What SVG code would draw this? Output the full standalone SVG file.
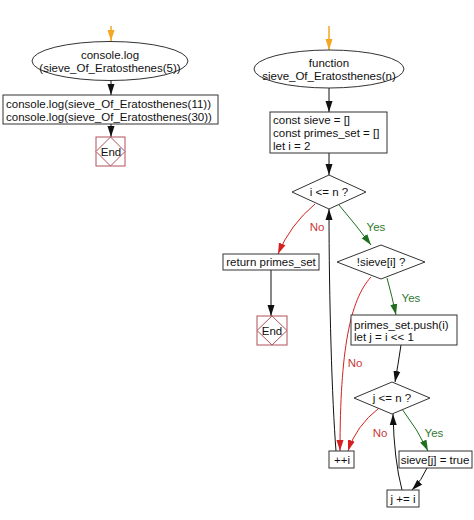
<svg xmlns="http://www.w3.org/2000/svg" width="474" height="520" viewBox="0 0 474 520">
<style>
text{font-family:"Liberation Sans",Arial,sans-serif;font-size:11.5px;fill:#111}
.c{text-anchor:middle}
.box{fill:#fff;stroke:#333;stroke-width:1}
.end{fill:#fff;stroke:#b0505a;stroke-width:1}
.k{fill:none;stroke:#111;stroke-width:1}
.r{fill:none;stroke:#d42020;stroke-width:1}
.g{fill:none;stroke:#1f6f1f;stroke-width:1}
.o{fill:none;stroke:#f5a623;stroke-width:1.5}
.nl{fill:#c83a3a}
.yl{fill:#2f7a2f}
</style>
<defs>
<marker id="ak" markerWidth="12" markerHeight="8" refX="11" refY="4" orient="auto" markerUnits="userSpaceOnUse"><path d="M0,0.5 L11,4 L0,7.5 z" fill="#111"/></marker>
<marker id="ar" markerWidth="12" markerHeight="8" refX="11" refY="4" orient="auto" markerUnits="userSpaceOnUse"><path d="M0,0.5 L11,4 L0,7.5 z" fill="#d42020"/></marker>
<marker id="ag" markerWidth="12" markerHeight="8" refX="11" refY="4" orient="auto" markerUnits="userSpaceOnUse"><path d="M0,0.5 L11,4 L0,7.5 z" fill="#1f6f1f"/></marker>
<marker id="ao" markerWidth="12" markerHeight="8" refX="11" refY="4" orient="auto" markerUnits="userSpaceOnUse"><path d="M0,0.5 L11,4 L0,7.5 z" fill="#f5a623"/></marker>
</defs>
<g id="connectors">
<path class="o" d="M111,26 L111,41" marker-end="url(#ao)"/>
<path class="k" d="M111,80 L111,95" marker-end="url(#ak)"/>
<path class="k" d="M111,124 L111,137" marker-end="url(#ak)"/>
<path class="o" d="M329,26 L329,50" marker-end="url(#ao)"/>
<path class="k" d="M329,88 L329,112" marker-end="url(#ak)"/>
<path class="k" d="M329,153 L329,175" marker-end="url(#ak)"/>
<path class="r" d="M315,204 Q290,225 278,254" marker-end="url(#ar)"/>
<path class="g" d="M339,205 Q356,225 371,245" marker-end="url(#ag)"/>
<path class="k" d="M271,270 L271,316" marker-end="url(#ak)"/>
<path class="g" d="M387,278 Q392,296 396,315" marker-end="url(#ag)"/>
<path class="r" d="M371,277 C350,300 340,350 340,451" marker-end="url(#ar)"/>
<path class="k" d="M401,345 Q398,365 395,382" marker-end="url(#ak)"/>
<path class="r" d="M379,408 Q356,426 348,451" marker-end="url(#ar)"/>
<path class="g" d="M402,409 Q418,430 428,451" marker-end="url(#ag)"/>
<path class="k" d="M427,468 Q422,480 412,490" marker-end="url(#ak)"/>
<path class="k" d="M402,490 Q394,460 393,414" marker-end="url(#ak)"/>
<path class="k" d="M336,451 C332,400 329,300 329,209" marker-end="url(#ak)"/>
<text class="nl c" x="317" y="231">No</text>
<text class="yl c" x="376" y="231">Yes</text>
<text class="yl c" x="411" y="302">Yes</text>
<text class="nl c" x="355" y="367">No</text>
<text class="nl c" x="380" y="437">No</text>
<text class="yl c" x="434" y="437">Yes</text>
</g>
<g id="start1">
<ellipse class="box" cx="110" cy="61" rx="78" ry="19.5"/>
<text class="c" x="110" y="59">console.log</text>
<text class="c" x="110" y="72">(sieve_Of_Eratosthenes(5))</text>
</g>
<g id="calls">
<rect class="box" x="3" y="95" width="215" height="29"/>
<text x="6" y="108">console.log(sieve_Of_Eratosthenes(11))</text>
<text x="6" y="121">console.log(sieve_Of_Eratosthenes(30))</text>
</g>
<g id="end1">
<rect class="end" x="96" y="137" width="29" height="29"/>
<path class="end" d="M110.5,137 L125,151.5 L110.5,166 L96,151.5 z"/>
<text class="c" x="111" y="156">End</text>
</g>
<g id="start2">
<ellipse class="box" cx="329" cy="69" rx="75" ry="19"/>
<text class="c" x="329" y="67">function</text>
<text class="c" x="329" y="80">sieve_Of_Eratosthenes(n)</text>
</g>
<g id="init">
<rect class="box" x="270" y="112" width="117" height="41"/>
<text x="273" y="124">const sieve = []</text>
<text x="273" y="137">const primes_set = []</text>
<text x="273" y="150">let i = 2</text>
</g>
<g id="cond_i">
<path class="box" d="M329,175 L366,192 L329,209 L292,192 z"/>
<text class="c" x="329" y="196">i &lt;= n ?</text>
</g>
<g id="ret">
<rect class="box" x="223" y="254" width="96" height="16"/>
<text class="c" x="271" y="266">return primes_set</text>
</g>
<g id="end2">
<rect class="end" x="257" y="316" width="30" height="29"/>
<path class="end" d="M272,316 L287,330.5 L272,345 L257,330.5 z"/>
<text class="c" x="272" y="335">End</text>
</g>
<g id="cond_sieve">
<path class="box" d="M381,245 L425,262 L381,279 L337,262 z"/>
<text class="c" x="381" y="266">!sieve[i] ?</text>
</g>
<g id="push">
<rect class="box" x="351" y="315" width="106" height="30"/>
<text x="354" y="329">primes_set.push(i)</text>
<text x="354" y="341">let j = i &lt;&lt; 1</text>
</g>
<g id="cond_j">
<path class="box" d="M392,382 L430,398 L392,414 L354,398 z"/>
<text class="c" x="392" y="402">j &lt;= n ?</text>
</g>
<g id="inc_i">
<rect class="box" x="329" y="451" width="25" height="17"/>
<text class="c" x="342" y="464">++i</text>
</g>
<g id="mark">
<rect class="box" x="399" y="451" width="73" height="17"/>
<text class="c" x="435" y="464">sieve[j] = true</text>
</g>
<g id="inc_j">
<rect class="box" x="387" y="490" width="32" height="17"/>
<text class="c" x="403" y="503">j += i</text>
</g>
</svg>
